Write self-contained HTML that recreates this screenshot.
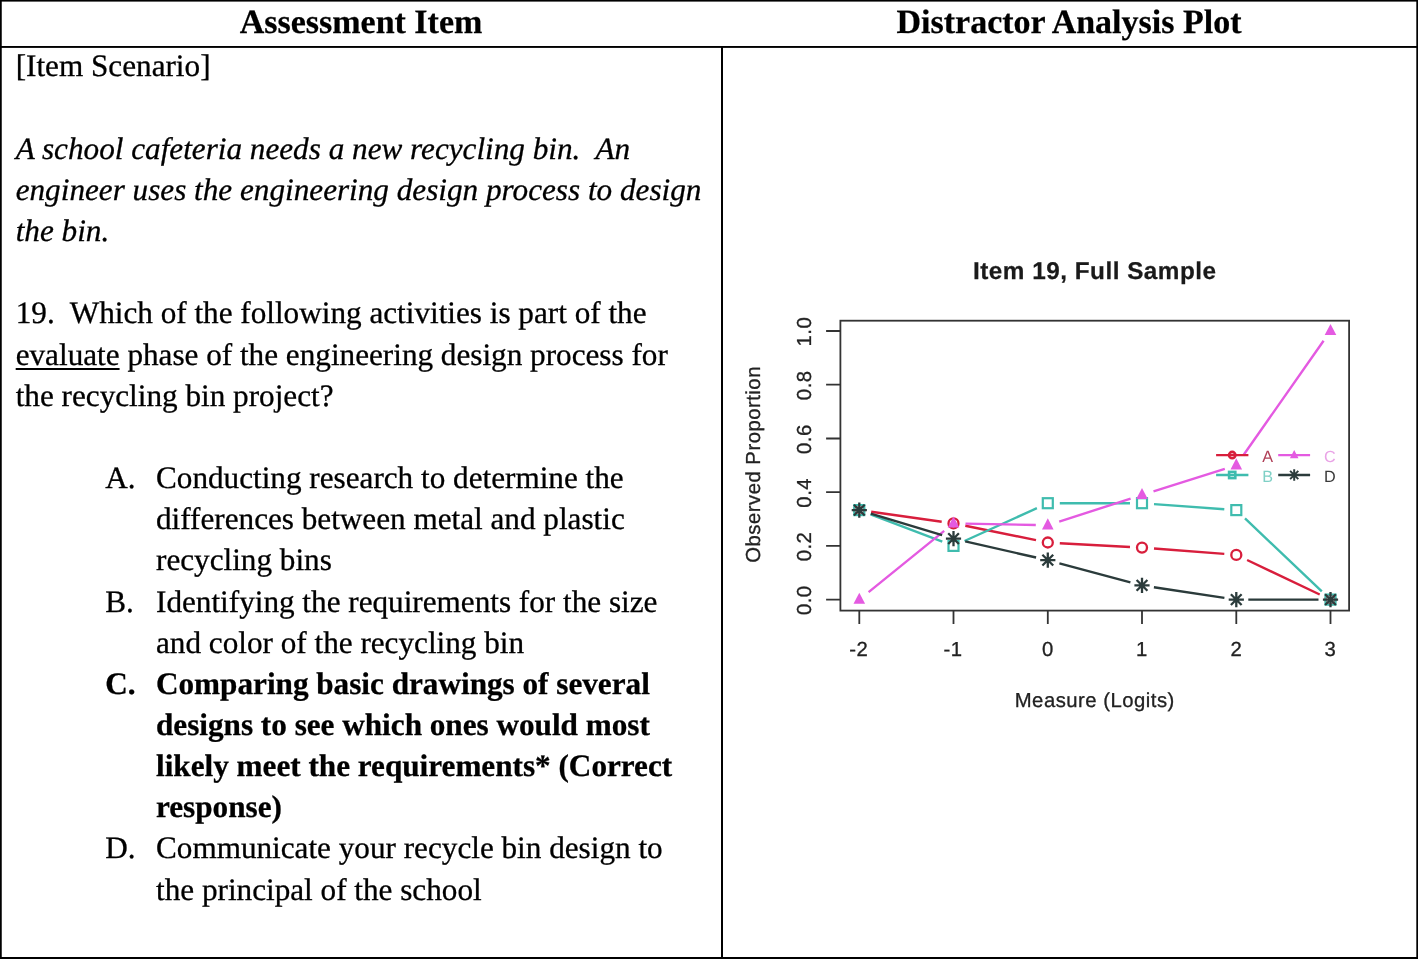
<!DOCTYPE html>
<html lang="en">
<head>
<meta charset="utf-8">
<title>Assessment Item 19 – Distractor Analysis</title>
<style>
html,body{margin:0;padding:0;background:#fff;}
body{width:1418px;height:959px;position:relative;overflow:hidden;color:#000;
  font-family:"Liberation Serif",serif;text-rendering:geometricPrecision;}
.ln{display:block;-webkit-text-stroke:0.3px #000;position:absolute;white-space:pre;font-size:31.2px;line-height:41px;height:41px;margin:0;}
.i{font-style:italic;}
.b{font-weight:bold;}
.hd{-webkit-text-stroke:0.25px #000;position:absolute;white-space:pre;font-weight:bold;font-size:34px;line-height:40px;height:40px;text-align:center;margin:0;}
u{text-decoration:underline;text-decoration-thickness:1.8px;text-underline-offset:2.5px;}
main,section,h2,p,ol,li{margin:0;padding:0;border:0;font-weight:inherit;font-size:inherit;}
ol{list-style:none;}
h2.hd{font-weight:bold;font-size:34px;}
svg{position:absolute;left:0;top:0;}
svg text{font-family:"Liberation Sans",sans-serif;fill:#222;stroke:#222;stroke-width:0.3px;letter-spacing:0.5px;}
</style>
</head>
<body>
<main>
<section class="item">
<h2 class="hd" style="left:0px;width:722px;top:3.00px">Assessment Item</h2>
<p><span class="ln" style="left:15.70px;top:45px">[Item Scenario]</span></p>
<p><span class="ln i" style="left:15.70px;top:128px">A school cafeteria needs a new recycling bin.  An</span>
<span class="ln i" style="left:15.70px;top:169px">engineer uses the engineering design process to design</span>
<span class="ln i" style="left:15.70px;top:210px">the bin.</span></p>
<p><span class="ln" style="left:15.70px;top:292px">19.  Which of the following activities is part of the</span>
<span class="ln" style="left:15.70px;top:334px"><u>evaluate</u> phase of the engineering design process for</span>
<span class="ln" style="left:15.70px;top:375px">the recycling bin project?</span></p>
<ol>
<li><span class="ln" style="left:105.30px;top:457px">A.</span>
<span class="ln" style="left:156.00px;top:457px">Conducting research to determine the</span>
<span class="ln" style="left:156.00px;top:498px">differences between metal and plastic</span>
<span class="ln" style="left:156.00px;top:539px">recycling bins</span></li>
<li><span class="ln" style="left:105.30px;top:581px">B.</span>
<span class="ln" style="left:156.00px;top:581px">Identifying the requirements for the size</span>
<span class="ln" style="left:156.00px;top:622px">and color of the recycling bin</span></li>
<li><span class="ln b" style="left:105.30px;top:663px">C.</span>
<span class="ln b" style="left:156.00px;top:663px">Comparing basic drawings of several</span>
<span class="ln b" style="left:156.00px;top:704px">designs to see which ones would most</span>
<span class="ln b" style="left:156.00px;top:745px">likely meet the requirements* (Correct</span>
<span class="ln b" style="left:156.00px;top:786px">response)</span></li>
<li><span class="ln" style="left:105.30px;top:827px">D.</span>
<span class="ln" style="left:156.00px;top:827px">Communicate your recycle bin design to</span>
<span class="ln" style="left:156.00px;top:869px">the principal of the school</span></li>
</ol>
</section>
<section class="plot">
<h2 class="hd" style="left:722px;width:694px;top:3.00px">Distractor Analysis Plot</h2>
<svg width="1418" height="959" viewBox="0 0 1418 959">
<g fill="#000">
<rect x="0" y="0" width="1418" height="1.6"/>
<rect x="0" y="0" width="1.75" height="959"/>
<rect x="1416.3" y="0" width="1.7" height="959"/>
<rect x="0" y="957" width="1418" height="2"/>
<rect x="0" y="46" width="1418" height="1.9"/>
<rect x="721" y="47" width="2" height="912"/>
</g>
<g>
<g fill="none" stroke="#333" stroke-width="1.8">
<rect x="840.4" y="320.7" width="508.7" height="289.9"/>
<path d="M859.3 610.6V623.9M953.5 610.6V623.9M1047.8 610.6V623.9M1142.0 610.6V623.9M1236.3 610.6V623.9M1330.5 610.6V623.9M840.4 599.6H826.1M840.4 545.9H826.1M840.4 492.2H826.1M840.4 438.5H826.1M840.4 384.7H826.1M840.4 331.0H826.1"/>
</g>
<text x="1094.8" y="278.8" font-size="24.3" font-weight="bold" text-anchor="middle" style="fill:#1a1a1a;stroke:#1a1a1a;stroke-width:0.25px;letter-spacing:0.5px">Item 19, Full Sample</text>
<text x="1094.8" y="707.2" font-size="20.3" text-anchor="middle">Measure (Logits)</text>
<text transform="translate(760.0 464.4) rotate(-90)" font-size="20.3" text-anchor="middle">Observed Proportion</text>
<text x="858.8" y="655.8" font-size="20.3" text-anchor="middle">-2</text>
<text x="953.0" y="655.8" font-size="20.3" text-anchor="middle">-1</text>
<text x="1047.8" y="655.8" font-size="20.3" text-anchor="middle">0</text>
<text x="1142.0" y="655.8" font-size="20.3" text-anchor="middle">1</text>
<text x="1236.3" y="655.8" font-size="20.3" text-anchor="middle">2</text>
<text x="1330.5" y="655.8" font-size="20.3" text-anchor="middle">3</text>
<text transform="translate(810.5 600.2) rotate(-90)" font-size="20.3" text-anchor="middle">0.0</text>
<text transform="translate(810.5 546.5) rotate(-90)" font-size="20.3" text-anchor="middle">0.2</text>
<text transform="translate(810.5 492.8) rotate(-90)" font-size="20.3" text-anchor="middle">0.4</text>
<text transform="translate(810.5 439.1) rotate(-90)" font-size="20.3" text-anchor="middle">0.6</text>
<text transform="translate(810.5 385.3) rotate(-90)" font-size="20.3" text-anchor="middle">0.8</text>
<text transform="translate(810.5 331.6) rotate(-90)" font-size="20.3" text-anchor="middle">1.0</text>
<g>
<path d="M871.2 511.8L941.7 521.7M965.3 525.7L1036.0 540.1M1059.8 543.2L1130.0 547.0M1154.0 548.5L1224.3 553.9M1247.1 560.0L1319.7 594.5" fill="none" stroke="#d81e3c" stroke-width="2.4"/>
<circle cx="859.3" cy="510.1" r="5.0" fill="none" stroke="#d81e3c" stroke-width="2.3"/>
<circle cx="953.5" cy="523.4" r="5.0" fill="none" stroke="#d81e3c" stroke-width="2.3"/>
<circle cx="1047.8" cy="542.5" r="5.0" fill="none" stroke="#d81e3c" stroke-width="2.3"/>
<circle cx="1142.0" cy="547.6" r="5.0" fill="none" stroke="#d81e3c" stroke-width="2.3"/>
<circle cx="1236.3" cy="554.9" r="5.0" fill="none" stroke="#d81e3c" stroke-width="2.3"/>
<circle cx="1330.5" cy="599.6" r="5.0" fill="none" stroke="#d81e3c" stroke-width="2.3"/>
<path d="M870.5 514.4L942.3 541.7M964.5 541.0L1036.9 508.2M1059.8 503.2L1130.0 503.2M1154.0 504.1L1224.3 509.2M1245.0 518.4L1321.8 591.4" fill="none" stroke="#3fbcae" stroke-width="2.4"/>
<rect x="854.3" y="505.1" width="10.0" height="10.0" fill="none" stroke="#3fbcae" stroke-width="2.2"/>
<rect x="948.5" y="540.9" width="10.0" height="10.0" fill="none" stroke="#3fbcae" stroke-width="2.2"/>
<rect x="1042.8" y="498.2" width="10.0" height="10.0" fill="none" stroke="#3fbcae" stroke-width="2.2"/>
<rect x="1137.0" y="498.2" width="10.0" height="10.0" fill="none" stroke="#3fbcae" stroke-width="2.2"/>
<rect x="1231.3" y="505.1" width="10.0" height="10.0" fill="none" stroke="#3fbcae" stroke-width="2.2"/>
<rect x="1325.5" y="594.6" width="10.0" height="10.0" fill="none" stroke="#3fbcae" stroke-width="2.2"/>
<path d="M868.6 592.1L944.2 530.9M965.5 523.6L1035.8 525.0M1059.2 521.6L1130.6 498.6M1153.5 491.3L1224.8 468.9M1243.2 455.5L1323.6 340.8" fill="none" stroke="#e45ae1" stroke-width="2.4"/>
<path d="M859.3 592.7L865.1 603.8L853.5 603.8Z" fill="#e45ae1"/>
<path d="M953.5 516.4L959.3 527.5L947.7 527.5Z" fill="#e45ae1"/>
<path d="M1047.8 518.2L1053.6 529.4L1042.0 529.4Z" fill="#e45ae1"/>
<path d="M1142.0 487.9L1147.8 499.0L1136.2 499.0Z" fill="#e45ae1"/>
<path d="M1236.3 458.3L1242.1 469.4L1230.5 469.4Z" fill="#e45ae1"/>
<path d="M1330.5 324.0L1336.3 335.1L1324.7 335.1Z" fill="#e45ae1"/>
<path d="M870.8 513.6L942.1 535.2M965.2 541.3L1036.1 557.5M1059.4 563.3L1130.4 582.3M1153.9 587.2L1224.4 597.9M1248.3 599.6L1318.5 599.6" fill="none" stroke="#2b3b3b" stroke-width="2.4"/>
<path d="M851.7 510.1H866.9M859.3 502.5V517.7M853.9 504.7L864.7 515.5M853.9 515.5L864.7 504.7" fill="none" stroke="#2b3b3b" stroke-width="2.3"/>
<path d="M945.9 538.7H961.1M953.5 531.1V546.3M948.2 533.3L958.9 544.0M948.2 544.0L958.9 533.3" fill="none" stroke="#2b3b3b" stroke-width="2.3"/>
<path d="M1040.2 560.2H1055.4M1047.8 552.6V567.8M1042.4 554.8L1053.2 565.5M1042.4 565.5L1053.2 554.8" fill="none" stroke="#2b3b3b" stroke-width="2.3"/>
<path d="M1134.4 585.4H1149.6M1142.0 577.8V593.0M1136.6 580.0L1147.4 590.8M1136.6 590.8L1147.4 580.0" fill="none" stroke="#2b3b3b" stroke-width="2.3"/>
<path d="M1228.7 599.6H1243.9M1236.3 592.0V607.2M1230.9 594.3L1241.6 605.0M1230.9 605.0L1241.6 594.3" fill="none" stroke="#2b3b3b" stroke-width="2.3"/>
<path d="M1322.9 599.6H1338.1M1330.5 592.0V607.2M1325.1 594.3L1335.9 605.0M1325.1 605.0L1335.9 594.3" fill="none" stroke="#2b3b3b" stroke-width="2.3"/>
</g>
<g>
<path d="M1216.1 455.1H1248.4" stroke="#d81e3c" stroke-width="2.4" fill="none"/>
<circle cx="1232.2" cy="455.1" r="3.2" fill="none" stroke="#d81e3c" stroke-width="2.6"/>
<path d="M1216.1 475.0H1248.4" stroke="#3fbcae" stroke-width="2.4" fill="none"/>
<rect x="1229.1" y="471.9" width="6.2" height="6.2" fill="none" stroke="#3fbcae" stroke-width="2.6"/>
<path d="M1278.2 455.1H1310.1" stroke="#e45ae1" stroke-width="2.4" fill="none"/>
<path d="M1294.2 450.1L1298.5 458.2L1289.9 458.2Z" fill="#e45ae1"/>
<path d="M1278.2 475.0H1310.1" stroke="#2b3b3b" stroke-width="2.4" fill="none"/>
<path d="M1288.4 475.0H1300.0M1294.2 469.2V480.8M1290.1 470.9L1298.3 479.1M1290.1 479.1L1298.3 470.9" fill="none" stroke="#2b3b3b" stroke-width="2.0"/>
<text x="1267.9" y="461.9" font-size="16.2" text-anchor="middle" style="fill:#b04058;stroke:none">A</text>
<text x="1267.9" y="481.8" font-size="16.2" text-anchor="middle" style="fill:#7fd0c6;stroke:none">B</text>
<text x="1330.2" y="461.9" font-size="16.2" text-anchor="middle" style="fill:#e9a3e6;stroke:none">C</text>
<text x="1330.2" y="481.8" font-size="16.2" text-anchor="middle" style="fill:#3a3a3a;stroke:none">D</text>
</g>
</g>
</svg>
</section>
</main>
</body>
</html>
